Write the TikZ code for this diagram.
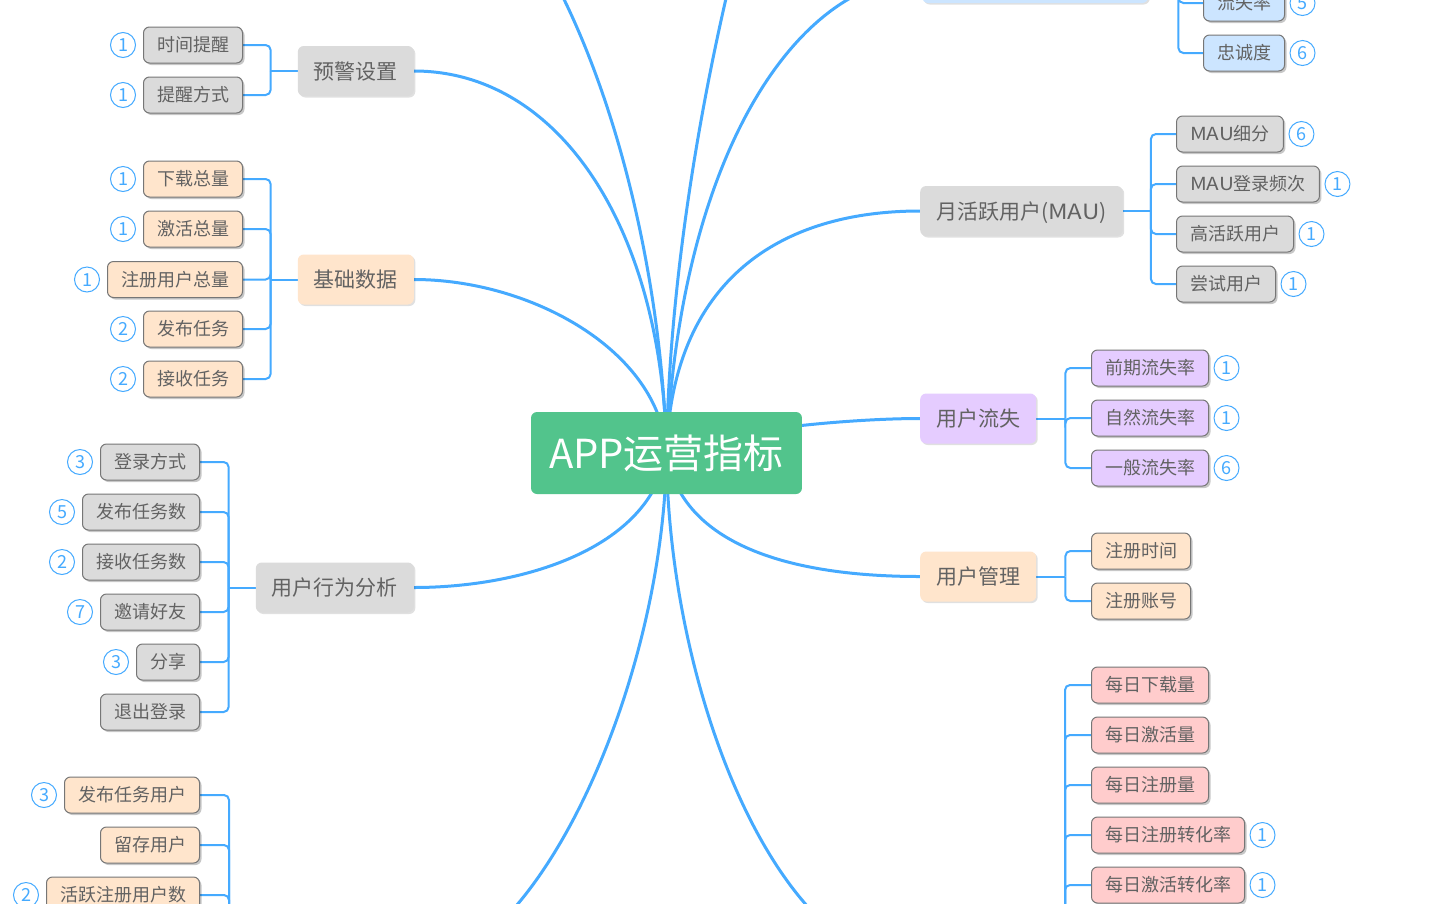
\documentclass[tikz,border=0pt]{standalone}
\usepackage{fontspec}
\newfontfamily\cjk{Noto Sans CJK SC}
\newfontfamily\widelat[FakeStretch=1.15]{Noto Sans CJK SC}
\usetikzlibrary{positioning,shadows,backgrounds}
\definecolor{lineblue}{HTML}{45AAFF}
\definecolor{rootgreen}{HTML}{52C48C}
\definecolor{grayfill}{HTML}{DBDBDB}
\definecolor{peach}{HTML}{FFE5CC}
\definecolor{lilac}{HTML}{E5CCFF}
\definecolor{skyfill}{HTML}{CCE5FF}
\definecolor{pinkfill}{HTML}{FFCCCC}
\definecolor{txt}{HTML}{626262}
\definecolor{boxline}{HTML}{767676}
\begin{document}
\begin{tikzpicture}[x=1pt,y=-1pt,
  rootbox/.style={fill=rootgreen, rounded corners=6pt, text=white,
    font=\cjk\fontsize{40}{40}\selectfont, inner sep=0pt, inner xsep=18pt,
    minimum height=82pt, text height=30pt, text depth=0pt},
  lone/.style={rounded corners=6pt, text=txt, font=\cjk\fontsize{21}{21}\selectfont,
    inner sep=0pt, inner xsep=16pt, minimum height=50pt, text height=16pt, text depth=0pt,
    drop shadow={shadow xshift=1.5pt, shadow yshift=-1.5pt, fill=black, opacity=0.12}},
  ltwo/.style={draw=boxline, line width=1pt, rounded corners=6pt, text=txt,
    font=\cjk\fontsize{18}{18}\selectfont, inner sep=0pt, inner xsep=13.5pt,
    minimum height=36pt, text height=13.7pt, text depth=0pt,
    drop shadow={shadow xshift=2pt, shadow yshift=-2pt, fill=black, opacity=0.22}},
  num/.style={circle, draw=lineblue, fill=white, line width=1pt, minimum size=25pt,
    inner sep=0pt, text=lineblue, font=\cjk\fontsize{18}{18}\selectfont,
    text height=13pt, text depth=0pt},
  curve/.style={draw=lineblue, line width=3pt},
  brline/.style={draw=lineblue, line width=2pt, rounded corners=5pt},
]
\useasboundingbox (0,0) rectangle (1445,903);
\clip (0,0) rectangle (1445,903);

% root
\node[rootbox] (root) at (666.5,453) {APP运营指标};

% level 1
\node[lone, fill=grayfill, anchor=east] (yj) at (414,71) {预警设置};
\node[lone, fill=peach, anchor=east] (jc) at (414,279.5) {基础数据};
\node[lone, fill=grayfill, anchor=east] (xw) at (414,587.5) {用户行为分析};
\node[lone, fill=grayfill, anchor=west] (mau) at (920,211) {月活跃用户({\widelat MAU})};
\node[lone, fill=lilac, anchor=west] (ls) at (920,418.5) {用户流失};
\node[lone, fill=peach, anchor=west] (gl) at (920,576.5) {用户管理};
\node[lone, fill=skyfill, anchor=west, minimum width=226pt] (tr) at (922,-22) {};
\coordinate (tl) at (420,-170);
\coordinate (tm) at (800,-250);
\coordinate (bl) at (414,970);
\coordinate (br) at (920,970);

% junctions
\path (yj.west) ++(-27,0) coordinate (yjj);
\path (jc.west) ++(-27,0) coordinate (jcj);
\path (xw.west) ++(-27,0) coordinate (xwj);
\coordinate (blj) at (229,970);
\path (mau.east) ++(28,0) coordinate (mauj);
\path (tr.east) ++(30,0) coordinate (trj);
\path (ls.east) ++(29,0) coordinate (lsj);
\path (gl.east) ++(29,0) coordinate (glj);
\coordinate (brj) at (1065,970);

% left children
\node[ltwo, fill=grayfill, anchor=east] (a1) at (243,45) {时间提醒};
\node[ltwo, fill=grayfill, anchor=east] (a2) at (243,95) {提醒方式};
\node[num, left=7pt of a1] (na1) {1};
\node[num, left=7pt of a2] (na2) {1};

\node[ltwo, fill=peach, anchor=east] (b1) at (243,179) {下载总量};
\node[ltwo, fill=peach, anchor=east] (b2) at (243,229) {激活总量};
\node[ltwo, fill=peach, anchor=east] (b3) at (243,279.5) {注册用户总量};
\node[ltwo, fill=peach, anchor=east] (b4) at (243,329) {发布任务};
\node[ltwo, fill=peach, anchor=east] (b5) at (243,379) {接收任务};
\node[num, left=7pt of b1] (nb1) {1};
\node[num, left=7pt of b2] (nb2) {1};
\node[num, left=7pt of b3] (nb3) {1};
\node[num, left=7pt of b4] (nb4) {2};
\node[num, left=7pt of b5] (nb5) {2};

\node[ltwo, fill=grayfill, anchor=east] (c1) at (200,462) {登录方式};
\node[ltwo, fill=grayfill, anchor=east] (c2) at (200,512) {发布任务数};
\node[ltwo, fill=grayfill, anchor=east] (c3) at (200,562) {接收任务数};
\node[ltwo, fill=grayfill, anchor=east] (c4) at (200,612) {邀请好友};
\node[ltwo, fill=grayfill, anchor=east] (c5) at (200,662) {分享};
\node[ltwo, fill=grayfill, anchor=east] (c6) at (200,712) {退出登录};
\node[num, left=7pt of c1] (nc1) {3};
\node[num, left=7pt of c2] (nc2) {5};
\node[num, left=7pt of c3] (nc3) {2};
\node[num, left=7pt of c4] (nc4) {7};
\node[num, left=7pt of c5] (nc5) {3};

\node[ltwo, fill=peach, anchor=east] (d1) at (200,795) {发布任务用户};
\node[ltwo, fill=peach, anchor=east] (d2) at (200,845) {留存用户};
\node[ltwo, fill=peach, anchor=east] (d3) at (200,895) {活跃注册用户数};
\node[num, left=7pt of d1] (nd1) {3};
\node[num, left=7pt of d3] (nd3) {2};

% right children
\node[ltwo, fill=grayfill, anchor=west] (e1) at (1176,134) {{\widelat MAU}细分};
\node[ltwo, fill=grayfill, anchor=west] (e2) at (1176,184) {{\widelat MAU}登录频次};
\node[ltwo, fill=grayfill, anchor=west] (e3) at (1176,234) {高活跃用户};
\node[ltwo, fill=grayfill, anchor=west] (e4) at (1176,284) {尝试用户};
\node[num, right=4.5pt of e1] (ne1) {6};
\node[num, right=4.5pt of e2] (ne2) {1};
\node[num, right=4.5pt of e3] (ne3) {1};
\node[num, right=4.5pt of e4] (ne4) {1};

\node[ltwo, fill=skyfill, anchor=west] (f1) at (1203,3) {流失率};
\node[ltwo, fill=skyfill, anchor=west] (f2) at (1203,53) {忠诚度};
\node[num, right=4.5pt of f1] (nf1) {5};
\node[num, right=4.5pt of f2] (nf2) {6};

\node[ltwo, fill=lilac, anchor=west] (g1) at (1091,368) {前期流失率};
\node[ltwo, fill=lilac, anchor=west] (g2) at (1091,418) {自然流失率};
\node[ltwo, fill=lilac, anchor=west] (g3) at (1091,468) {一般流失率};
\node[num, right=4.5pt of g1] (ng1) {1};
\node[num, right=4.5pt of g2] (ng2) {1};
\node[num, right=4.5pt of g3] (ng3) {6};

\node[ltwo, fill=peach, anchor=west] (h1) at (1091,551) {注册时间};
\node[ltwo, fill=peach, anchor=west] (h2) at (1091,601) {注册账号};

\node[ltwo, fill=pinkfill, anchor=west] (k1) at (1091,685) {每日下载量};
\node[ltwo, fill=pinkfill, anchor=west] (k2) at (1091,735) {每日激活量};
\node[ltwo, fill=pinkfill, anchor=west] (k3) at (1091,785) {每日注册量};
\node[ltwo, fill=pinkfill, anchor=west] (k4) at (1091,835) {每日注册转化率};
\node[ltwo, fill=pinkfill, anchor=west] (k5) at (1091,885) {每日激活转化率};
\node[num, right=4.5pt of k4] (nk4) {1};
\node[num, right=4.5pt of k5] (nk5) {1};

\begin{pgfonlayer}{background}
\clip (0,0) rectangle (1445,903);
\fill[white] (0,0) rectangle (1445,903);
% main curves
\draw[curve] (root.center) .. controls (663,230) and (560,71) .. (yj.east);
\draw[curve] (root.center) .. controls (660,350) and (530,279.5) .. (jc.east);
\draw[curve] (root.center) .. controls (650,550) and (520,587.5) .. (xw.east);
\draw[curve] (root.center) .. controls (664,680) and (540,960) .. (bl);
\draw[curve] (root.center) .. controls (660,200) and (565,-100) .. (tl);
\draw[curve] (root.center) .. controls (670,200) and (740,-100) .. (tm);
\draw[curve] (root.center) .. controls (680,150) and (800,-22) .. (tr.west);
\draw[curve] (root.center) .. controls (672,280) and (780,211) .. (mau.west);
\draw[curve] (root.center) .. controls (720,430) and (850,418.5) .. (ls.west);
\draw[curve] (root.center) .. controls (680,540) and (780,576.5) .. (gl.west);
\draw[curve] (root.center) .. controls (668,680) and (770,960) .. (br);
% brackets
\draw[brline] (yj.west) -- (yjj);
\foreach \c in {a1,a2} \draw[brline] (yjj) |- (\c.east);
\draw[brline] (jc.west) -- (jcj);
\foreach \c in {b1,b2,b3,b4,b5} \draw[brline] (jcj) |- (\c.east);
\draw[brline] (xw.west) -- (xwj);
\foreach \c in {c1,c2,c3,c4,c5,c6} \draw[brline] (xwj) |- (\c.east);
\foreach \c in {d1,d2,d3} \draw[brline] (blj) |- (\c.east);
\draw[brline] (mau.east) -- (mauj);
\foreach \c in {e1,e2,e3,e4} \draw[brline] (mauj) |- (\c.west);
\draw[brline] (tr.east) -- (trj);
\foreach \c in {f1,f2} \draw[brline] (trj) |- (\c.west);
\draw[brline] (ls.east) -- (lsj);
\foreach \c in {g1,g2,g3} \draw[brline] (lsj) |- (\c.west);
\draw[brline] (gl.east) -- (glj);
\foreach \c in {h1,h2} \draw[brline] (glj) |- (\c.west);
\foreach \c in {k1,k2,k3,k4,k5} \draw[brline] (brj) |- (\c.west);
\end{pgfonlayer}
\end{tikzpicture}
\end{document}
